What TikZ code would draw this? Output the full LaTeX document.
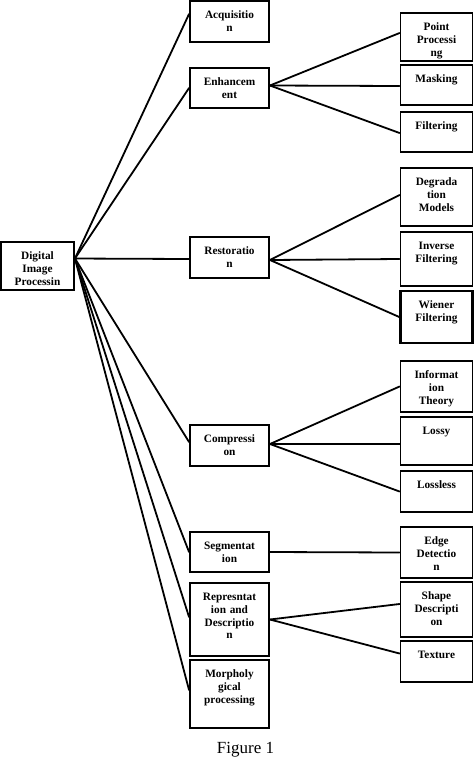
\documentclass[tikz,border=0pt]{standalone}
\usepackage{fontspec}
\setmainfont{Liberation Serif}
\usetikzlibrary{calc}
\tikzset{
  bx/.style={draw, rectangle, line width=1.9pt, inner sep=0pt},
  lab/.style={text width=74pt, align=center, inner sep=0pt, font=\bfseries\fontsize{11.3}{12.8}\selectfont},
  conn/.style={line width=1.8pt, line cap=round},
  cap1/.style={font=\fontsize{17}{20}\selectfont, inner sep=0pt}
}
\newcommand\mybox[7][]{%
  \node[bx, minimum width=#5pt, minimum height=#6pt, #1] (#2) at (#3,#4) {};
  \node[lab, anchor=base] (#2t) at ([yshift=-18.5pt]#2.north) {#7};}
\begin{document}
\begin{tikzpicture}[x=1pt,y=-1pt]
\useasboundingbox (0,0) rectangle (474,758);
% root
\mybox{dip}{37.5}{266}{73}{48}{Digital\\Image\\Processin}
% middle column
\mybox{acq}{229.5}{21.5}{79}{41}{Acquisitio\\n}
\mybox{enh}{229.5}{88}{79}{40}{Enhancem\\ent}
\mybox{res}{229.5}{257.5}{79}{41}{Restoratio\\n}
\mybox{comp}{229.5}{445.5}{79}{41}{Compressi\\on}
\mybox{seg}{229.5}{552}{79}{40}{Segmentat\\ion}
\mybox{rep}{229.5}{619.5}{79}{73}{Represntat\\ion and\\Descriptio\\n}
\mybox{mor}{229.5}{694}{79}{68}{Morpholy\\gical\\processing}
% right column
\mybox{pp}{436.5}{37}{72}{48}{Point\\Processi\\ng}
\mybox{mask}{436.5}{85}{72}{40}{Masking}
\mybox{filt}{436.5}{132}{72}{40}{Filtering}
\mybox{deg}{436.5}{197}{72}{58}{Degrada\\tion\\Models}
\mybox{inv}{436.5}{259}{72}{54}{Inverse\\Filtering}
\mybox[line width=2.5pt]{wien}{436.5}{317}{72}{52}{Wiener\\Filtering}
\mybox{info}{436.5}{386.5}{72}{51}{Informat\\ion\\Theory}
\mybox{lossy}{436.5}{441}{72}{48}{Lossy}
\mybox{lossless}{436.5}{491.5}{72}{41}{Lossless}
\mybox{edge}{436.5}{552.5}{72}{51}{Edge\\Detectio\\n}
\mybox{shape}{436.5}{609.5}{72}{55}{Shape\\Descripti\\on}
\mybox{tex}{436.5}{661.5}{72}{41}{Texture}
% hub
\coordinate (hub) at ($(dip.north east)!0.35!(dip.south east)$);
% root connectors
\draw[conn] (hub) -- ([yshift=7.5pt]acq.west);
\draw[conn] (hub) -- (enh.west);
\draw[conn] (hub) -- ([yshift=-1.5pt]res.west);
\draw[conn] (hub) -- ([yshift=3.5pt]comp.west);
\draw[conn] (hub) -- (seg.west);
\draw[conn] (hub) -- ([yshift=2.5pt]rep.west);
\draw[conn] (hub) -- ([yshift=4pt]mor.west);
% enhancement
\draw[conn] ([yshift=2.5pt]enh.east) -- ([yshift=4pt]pp.west);
\draw[conn] ([yshift=2.5pt]enh.east) -- ([yshift=-1pt]mask.west);
\draw[conn] ([yshift=2.5pt]enh.east) -- ([yshift=-1pt]filt.west);
% restoration
\draw[conn] ([yshift=-2.5pt]res.east) -- ([yshift=2pt]deg.west);
\draw[conn] ([yshift=-2.5pt]res.east) -- (inv.west);
\draw[conn] ([yshift=-2.5pt]res.east) -- (wien.west);
% compression
\draw[conn] ([yshift=1.5pt]comp.east) -- (info.west);
\draw[conn] ([yshift=1.5pt]comp.east) -- ([yshift=-3pt]lossy.west);
\draw[conn] ([yshift=1.5pt]comp.east) -- (lossless.west);
% segmentation
\draw[conn] (seg.east) -- (edge.west);
% representation
\draw[conn] (rep.east) -- ([yshift=5.5pt]shape.west);
\draw[conn] (rep.east) -- ([yshift=8pt]tex.west);
% caption
\node[cap1, anchor=base] (fig) at (245.5,753) {Figure 1};
\end{tikzpicture}
\end{document}
